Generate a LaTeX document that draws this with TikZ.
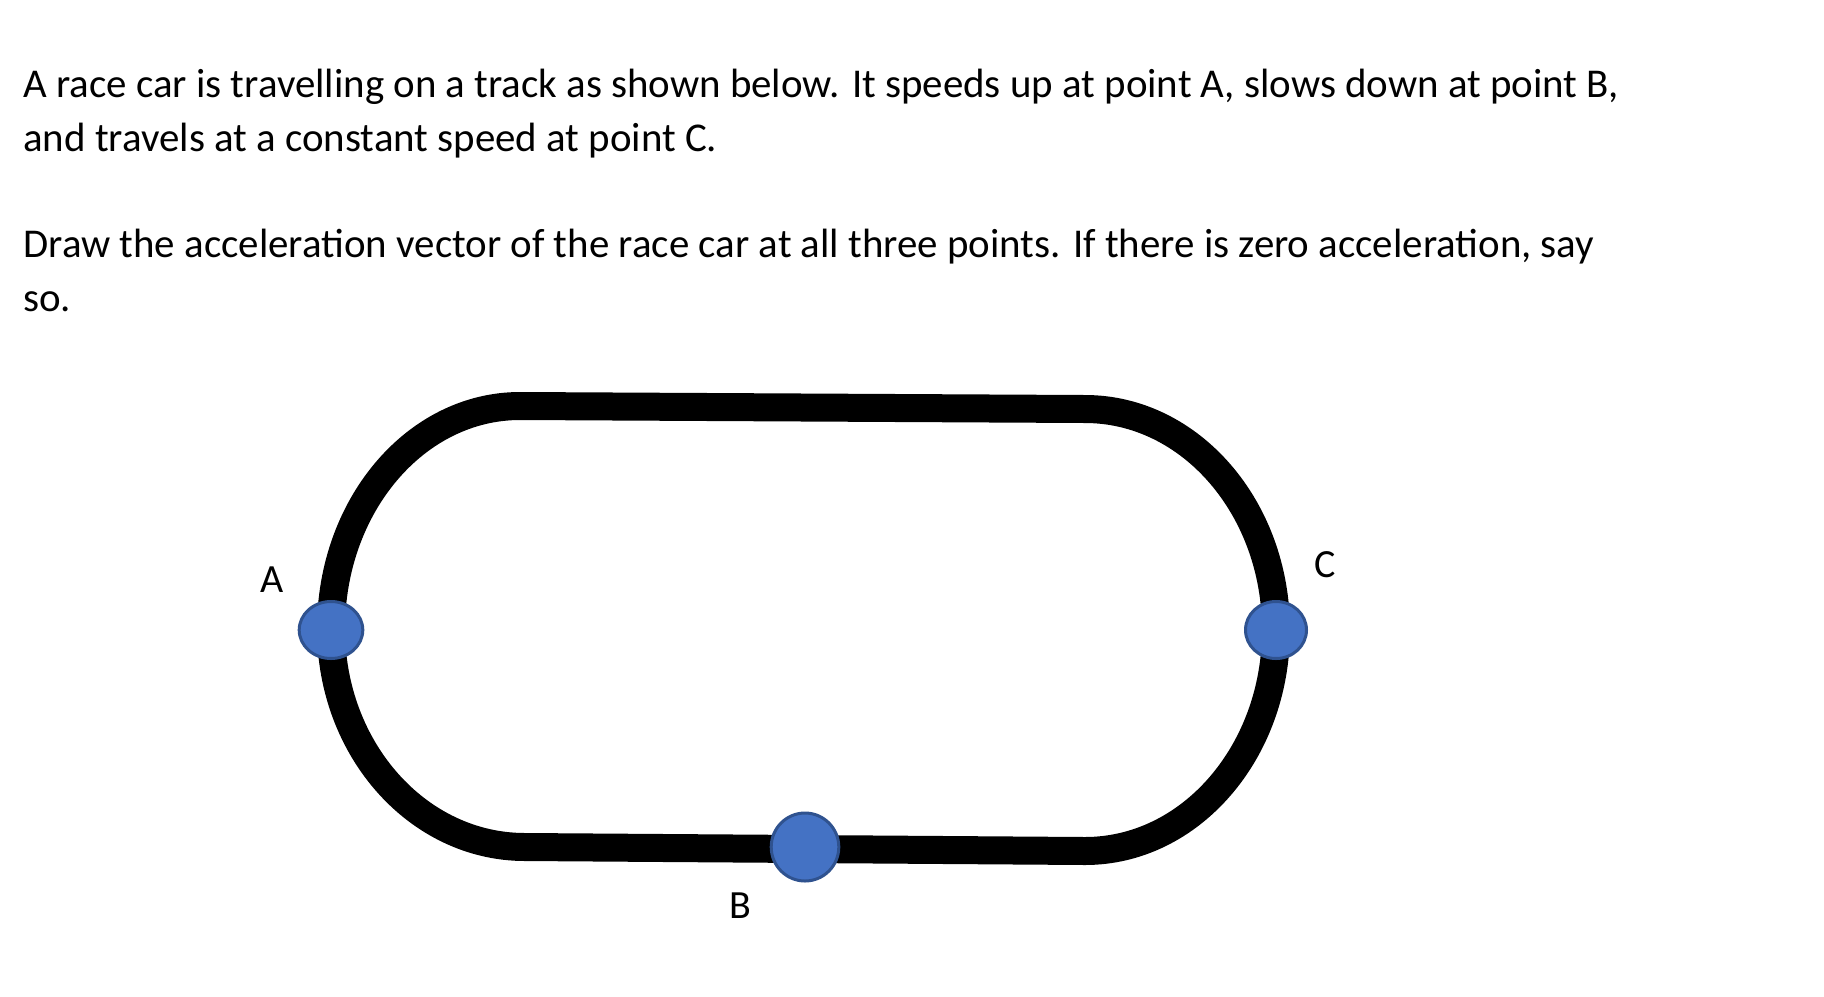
\documentclass[tikz,border=0pt]{standalone}
\usepackage{fontspec}
\setmainfont{Carlito}
\usetikzlibrary{shapes.geometric}
\definecolor{dotfill}{HTML}{4472C4}
\definecolor{dotline}{HTML}{2F528F}
\begin{document}
\begin{tikzpicture}[x=0.5pt,y=-0.5pt,
  track/.style={line width=14pt, line join=round, draw=black},
  dot/.style={ellipse, fill=dotfill, draw=dotline, line width=1.5pt, inner sep=0pt},
  txt/.style={anchor=base west, inner sep=0pt, font=\fontsize{20.45}{24}\selectfont},
  lbl/.style={anchor=base, inner sep=0pt, font=\fontsize{20}{24}\selectfont}]
\useasboundingbox (0,0) rectangle (1824,996);
\fill[white] (0,0) rectangle (1824,996);

% question text
\node[txt] (l1) at (23,97.7) {A race car is travelling on a track as shown below. It speeds up at point A, slows down at point B,};
\node[txt] (l2) at (23,151.7) {and travels at a constant speed at point C.};
\node[txt] (l3) at (23,257.7) {Draw the acceleration vector of the race car at all three points. If there is zero acceleration, say};
\node[txt] (l4) at (23,311.7) {so.};

% track
\coordinate (tl) at (520,406);
\coordinate (tr) at (1085,409);
\coordinate (br) at (1085,851);
\coordinate (bl) at (525,847);
\coordinate (pA) at (331,629);
\coordinate (pC) at (1276,630);
\draw[track] (tl) -- (tr)
  .. controls (1190.5,409) and (1276,508) .. (pC)
  .. controls (1276,752) and (1190.5,851) .. (br)
  -- (bl)
  .. controls (417.9,847) and (331,749.4) .. (pA)
  .. controls (331,505.8) and (415.6,406) .. (tl) -- cycle;

% points
\node[dot, minimum width=31.8pt, minimum height=28.5pt] (A) at (331,630) {};
\node[dot, minimum width=30.5pt, minimum height=28.5pt] (C) at (1276,630) {};
\node[dot, minimum width=33.8pt, minimum height=34pt] (B) at (805,847) {};

% labels
\node[lbl] (LA) at (271.7,592.7) {A};
\node[lbl] (LC) at (1325.3,577.7) {C};
\node[lbl] (LB) at (740,918.3) {B};
\end{tikzpicture}
\end{document}
